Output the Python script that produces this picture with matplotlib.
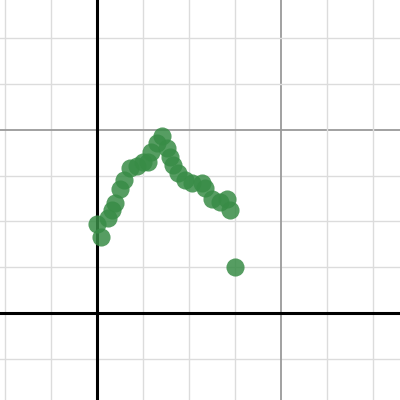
import numpy as np
import matplotlib
matplotlib.use('Agg')
import matplotlib.pyplot as plt

# points (grid units)
x_vals = [0.0, 0.08, 0.24, 0.31, 0.39, 0.49, 0.58, 0.71, 0.86, 1.0, 1.11, 1.18,
          1.29, 1.40, 1.51, 1.58, 1.65, 1.76, 1.91, 2.06, 2.27, 2.35, 2.49,
          2.67, 2.82, 2.89, 3.0]
y_vals = [1.95, 1.67, 2.07, 2.25, 2.40, 2.70, 2.90, 3.17, 3.21, 3.30, 3.30, 3.52,
          3.70, 3.86, 3.59, 3.41, 3.23, 3.05, 2.90, 2.83, 2.84, 2.72, 2.48,
          2.43, 2.50, 2.26, 1.0]

xlim = (-2.119, 6.592)
ylim = (-1.888, 6.823)

fig = plt.figure(figsize=(4, 4), dpi=100)
ax = fig.add_axes([0, 0, 1, 1])
ax.set_xlim(*xlim)
ax.set_ylim(*ylim)
ax.set_axis_off()

# grid
for v in range(-3, 8):
    major = (v % 4 == 0)
    col = '#9a9a9a' if major else '#dcdcdc'
    lw = 1.3 if major else 1.0
    if v != 0:
        ax.axvline(v, color=col, lw=lw, zorder=0)
        ax.axhline(v, color=col, lw=lw, zorder=0)
ax.axvline(0, color='black', lw=2.2, zorder=1)
ax.axhline(0, color='black', lw=2.2, zorder=1)

ax.scatter(x_vals, y_vals, s=170, color='#388c46', alpha=0.85,
           linewidths=0, zorder=3)

fig.savefig('out.png', dpi=100)
